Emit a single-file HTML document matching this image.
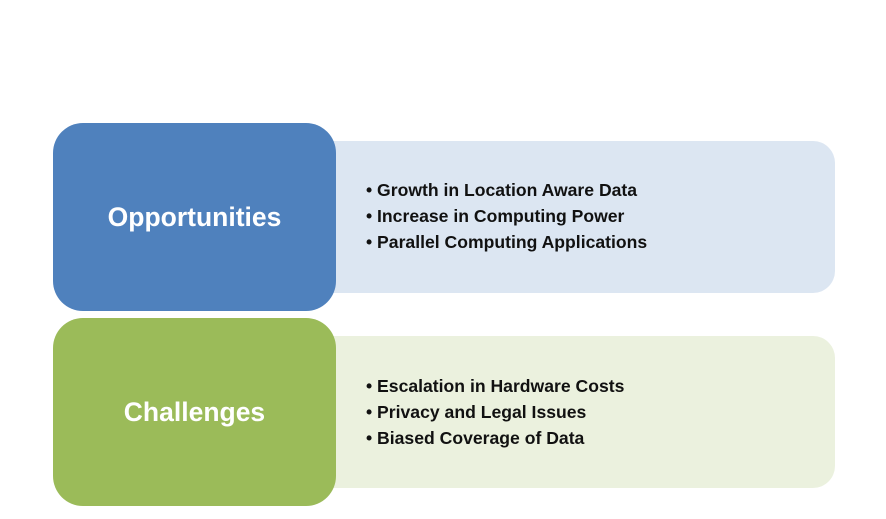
<!DOCTYPE html>
<html><head><style>
body{margin:0;width:886px;height:519px;background:#fff;position:relative;overflow:hidden;font-family:"Liberation Sans",sans-serif}
.p{position:absolute;border-radius:22px}
.b{position:absolute;border-radius:30px;color:#fff;font-size:26.5px;font-weight:bold;display:flex;align-items:center;justify-content:center}
.t{position:absolute;left:366px;font-size:17.6px;font-weight:bold;color:#111;line-height:26px}
</style></head><body>
<div class="p" style="left:300px;top:141px;width:535px;height:152px;background:#dce6f2"></div>
<div class="b" style="left:53px;top:123px;width:283px;height:188px;background:#4f81bd">Opportunities</div>
<div class="t" style="top:177px">• Growth in Location Aware Data<br>• Increase in Computing Power<br>• Parallel Computing Applications</div>
<div class="p" style="left:300px;top:336px;width:535px;height:152px;background:#ebf1de"></div>
<div class="b" style="left:53px;top:318px;width:283px;height:188px;background:#9bbb59">Challenges</div>
<div class="t" style="top:373px">• Escalation in Hardware Costs<br>• Privacy and Legal Issues<br>• Biased Coverage of Data</div>
</body></html>
